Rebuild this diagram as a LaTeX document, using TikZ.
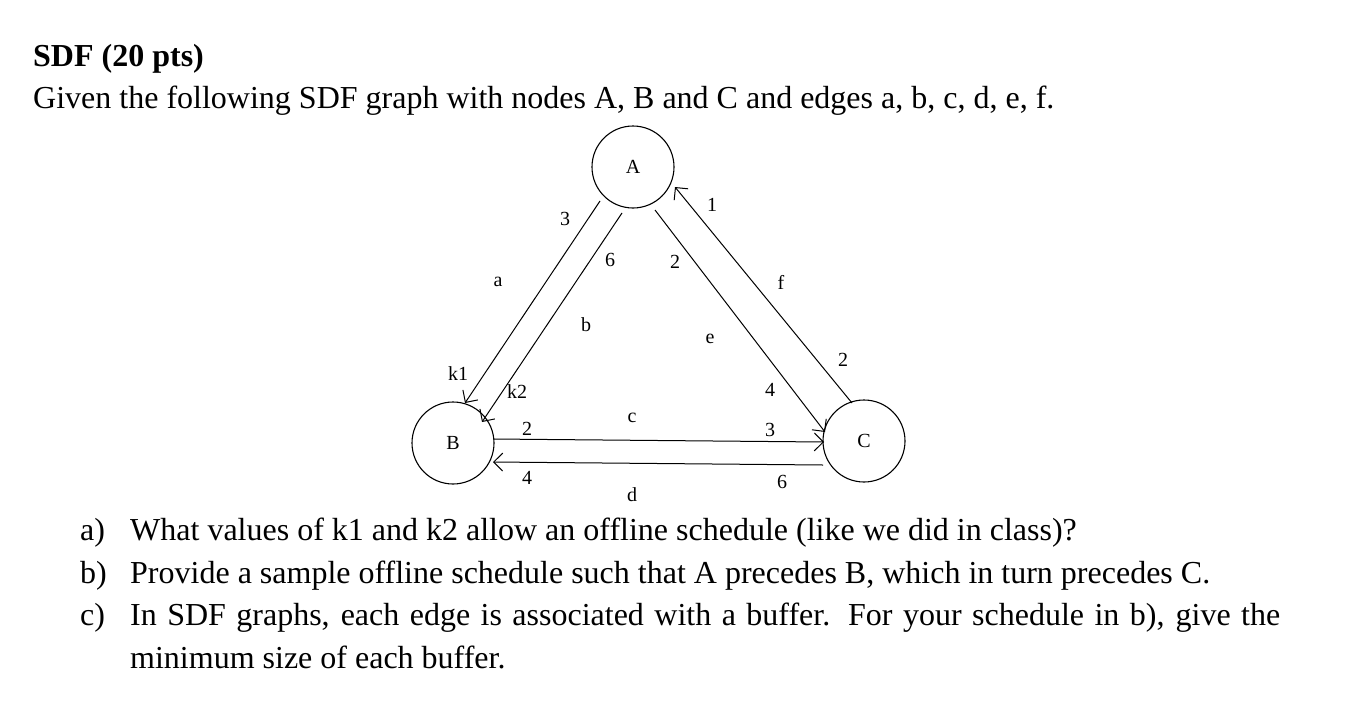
\documentclass[tikz,border=0pt]{standalone}
\usepackage{fontspec}
\setmainfont{Liberation Serif}
\usetikzlibrary{arrows.meta}
\begin{document}
\begin{tikzpicture}[x=1pt,y=-1pt,
  nd/.style={circle,draw,line width=1.1pt,minimum size=82pt,inner sep=0pt,font=\fontsize{20}{22}\selectfont},
  ed/.style={line width=1pt,-{Straight Barb[length=9pt,width=18pt,line width=1pt]}},
  lb/.style={font=\fontsize{20}{22}\selectfont,inner sep=0pt},
  tx/.style={font=\fontsize{32}{36}\selectfont,anchor=base west,inner sep=0pt}]
\useasboundingbox (0,0) rectangle (1354,715);
\node[tx] (t1) at (33,66) {\textbf{SDF (20 pts)}};
\node[tx] (t2) at (33,108) {Given the following SDF graph with nodes A, B and C and edges a, b, c, d, e, f.};
\node (A) [nd] at (633,167) {A};
\node (B) [nd] at (453,443) {B};
\node (C) [nd] at (864,441) {C};
\coordinate (a1) at (600,201); \coordinate (a2) at (465,403);
\coordinate (b1) at (622,213); \coordinate (b2) at (482,422);
\coordinate (e1) at (655,210); \coordinate (e2) at (825,432);
\coordinate (f1) at (852,403); \coordinate (f2) at (675,187);
\coordinate (c1) at (493,439); \coordinate (c2) at (824,442);
\coordinate (d1) at (823,465); \coordinate (d2) at (493,462);
\draw[ed] (a1) -- (a2);
\draw[ed] (b1) -- (b2);
\draw[ed] (e1) -- (e2);
\draw[ed] (f1) -- (f2);
\draw[ed] (c1) -- (c2);
\draw[ed] (d1) -- (d2);
\foreach \t/\x/\y/\n in {3/565/219/l1,6/610/260/l2,2/675/262/l3,1/712/205/l4,a/498/282/l5,b/586/325/l6,e/710/339/l7,f/781/282/l8,2/843/360/l9,k1/458/374/l10,k2/517/392/l11,4/770/390/l12,c/632/418/l13,2/527/429/l14,3/770/430/l15,4/527/478/l16,6/782/482/l17,d/632/495/l18}
  \node[lb] (\n) at (\x,\y) {\t};
\node[tx] (qa) at (80,540) {a)};
\node[tx] (qb) at (80,583) {b)};
\node[tx] (qc) at (80,625) {c)};
\node[tx] (ta) at (130,540) {What values of k1 and k2 allow an offline schedule (like we did in class)?};
\node[tx] (tb) at (130,583) {Provide a sample offline schedule such that A precedes B, which in turn precedes C.};
\node[tx] (tc) at (130,625) {\makebox[1150pt][s]{In SDF graphs, each edge is associated with a buffer. For your schedule in b), give the}};
\node[tx] (td) at (130,668) {minimum size of each buffer.};
\end{tikzpicture}
\end{document}
